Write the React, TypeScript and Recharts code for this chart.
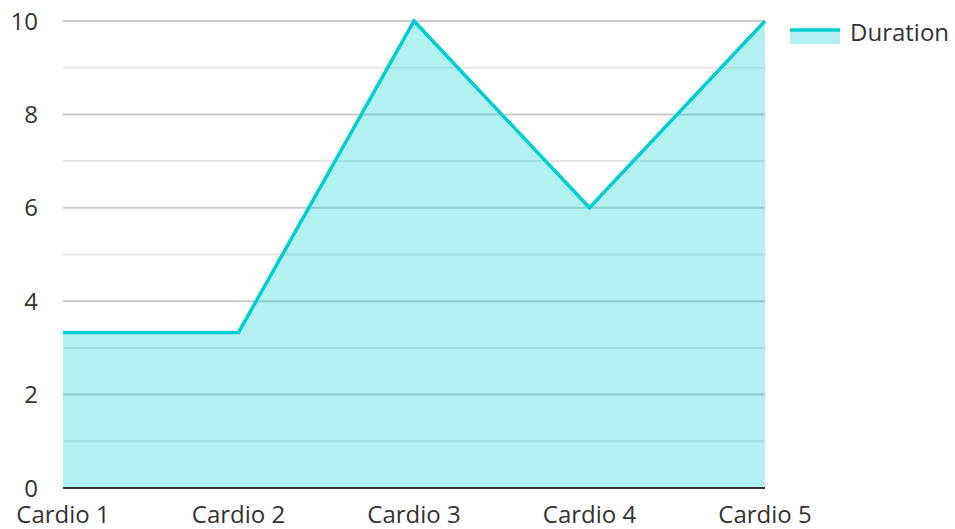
import React from 'react';
import { AreaChart, Area, XAxis, YAxis, CartesianGrid } from 'recharts';

const categories = ['Cardio 1', 'Cardio 2', 'Cardio 3', 'Cardio 4', 'Cardio 5'];
const durations = [3.33, 3.33, 10, 6, 10];
const yTicks = [0, 1, 2, 3, 4, 5, 6, 7, 8, 9, 10];
const labelledTicks = [0, 2, 4, 6, 8, 10];
const seriesName = 'Duration';

const data = categories.map((name, i) => ({ name, duration: durations[i] }));

const TEAL = '#00CED1';
const FONT = '"Open Sans", sans-serif';

// major lines on labelled ticks, lighter ones in between
const GridLine = (props: any) => {
  const { x1, x2, y1, y2, index } = props;
  const major = labelledTicks.includes(yTicks[index]);
  return <line x1={x1} x2={x2} y1={y1} y2={y2} stroke={major ? '#cccccc' : '#e6e6e6'} strokeWidth={2} />;
};

// legend sits to the right of the plot, outside the chart's layout
const ChartLegend = () => (
  <div
    style={{
      position: 'absolute', left: 790, top: 15,
      display: 'flex', alignItems: 'center',
      fontFamily: FONT, fontSize: 24, color: '#333', whiteSpace: 'nowrap',
    }}
  >
    <svg width={50} height={16} style={{ marginRight: 10, marginTop: 8 }}>
      <rect x={0} y={2} width={50} height={14} fill={TEAL} fillOpacity={0.3} />
      <line x1={0} x2={50} y1={2} y2={2} stroke={TEAL} strokeWidth={3.5} />
    </svg>
    <span>{seriesName}</span>
  </div>
);

export default function App() {
  return (
    <div style={{ position: 'absolute', left: 0, top: 0, width: 955, height: 529, background: '#fff' }}>
      <AreaChart width={955} height={529} data={data} margin={{ top: 21, right: 190, bottom: 0, left: 0 }}>
        <CartesianGrid vertical={false} horizontal={GridLine} />
        <XAxis
          dataKey="name"
          axisLine={{ stroke: '#333', strokeWidth: 2 }}
          tickLine={false}
          tickSize={0}
          tickMargin={18}
          height={41}
          interval={0}
          tick={{ fill: '#333', fontSize: 24, fontFamily: FONT }}
        />
        <YAxis
          width={63}
          domain={[0, 10]}
          ticks={yTicks}
          interval={0}
          tickFormatter={(v: number) => (labelledTicks.includes(v) ? String(v) : '')}
          axisLine={false}
          tickLine={false}
          tickSize={0}
          tickMargin={25}
          tick={{ fill: '#333', fontSize: 24, fontFamily: FONT }}
        />
        <Area
          type="linear"
          dataKey="duration"
          name={seriesName}
          stroke={TEAL}
          strokeWidth={3.5}
          fill={TEAL}
          fillOpacity={0.3}
          dot={false}
          activeDot={false}
          isAnimationActive={false}
        />
      </AreaChart>
      <ChartLegend />
    </div>
  );
}
